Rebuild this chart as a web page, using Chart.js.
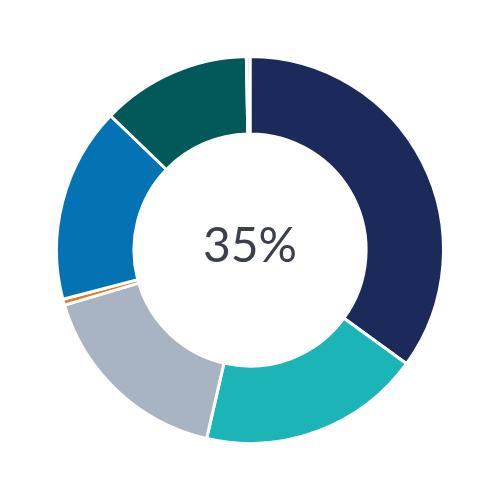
<!DOCTYPE html>
<html>
<head>
<meta charset="utf-8">
<script src="https://cdn.jsdelivr.net/npm/chart.js@4"></script>
<style>
    html, body { margin: 0; padding: 0; background: #fff; }
    #wrap { width: 500px; height: 500px; }
</style>
</head>
<body>
<div id="wrap"><canvas id="chart"></canvas></div>
<script>
// Datos del gráfico
const labels = ['A', 'B', 'C', 'D', 'E', 'F', 'G'];
const values = [35, 18.6, 16.8, 0.5, 16.3, 12.5, 0.3];
const colors = ['#1c2a5b', '#1bb5b8', '#a9b4c2', '#e47b26', '#0373b3', '#03595a', '#c9d3dc'];
const centerText = '35%';

// Texto en el centro del anillo
const centerLabel = {
    id: 'centerLabel',
    afterDraw(chart) {
        const meta = chart.getDatasetMeta(0);
        if (!meta.data.length) return;
        const { x, y } = meta.data[0];
        const ctx = chart.ctx;
        ctx.save();
        ctx.font = '400 48px Lato, "Open Sans", sans-serif';
        ctx.fillStyle = '#3b404b';
        ctx.textAlign = 'center';
        ctx.textBaseline = 'middle';
        ctx.fillText(centerText, x, y - 3);
        ctx.restore();
    }
};

new Chart(document.getElementById('chart'), {
    type: 'doughnut',
    data: {
        labels: labels,
        datasets: [{
            data: values,
            backgroundColor: colors,
            borderColor: '#ffffff',
            borderWidth: 3
        }]
    },
    options: {
        responsive: true,
        maintainAspectRatio: false,
        animation: false,
        cutout: '60%',
        layout: { padding: 55 },
        plugins: {
            legend: { display: false },
            tooltip: { enabled: false }
        }
    },
    plugins: [centerLabel]
});
</script>
</body>
</html>
